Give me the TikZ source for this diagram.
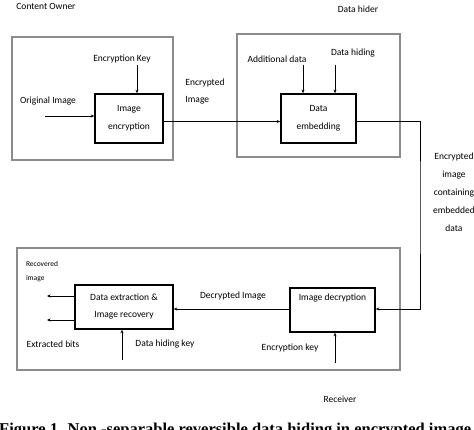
\documentclass[tikz,border=0pt]{standalone}
\usepackage{fontspec}
\setmainfont{Carlito}
\newfontfamily\capfont{Liberation Serif}
\usepackage{tikz}
\usetikzlibrary{positioning,arrows.meta}

\begin{document}
\begin{tikzpicture}[x=1pt,y=-1pt,
  font=\fontsize{9.5}{12}\selectfont,
  frame/.style={draw=black!45, line width=1.6pt},
  block/.style={draw, line width=1.6pt, align=center, inner sep=0pt},
  flow/.style={-{Stealth[length=3.5pt,width=3pt]}, line width=0.7pt}]
\useasboundingbox (0,0) rectangle (474,430);
% the three parties
\draw[frame] (12,37) rectangle (173,160);
\draw[frame] (237,34) rectangle (400,157);
\draw[frame] (17,248) rectangle (400,370);
\node (owner) at (46,6) {Content Owner};
\node (hider) at (358,9) {Data hider};
\node (receiver) at (340,399) {Receiver};
% blocks
\node[block, minimum width=68, minimum height=49] (enc) at (129,118.5) {Image\\[6pt]encryption};
\node[block, minimum width=75, minimum height=49] (emb) at (318.5,118.5) {Data\\[6pt]embedding};
\node[block, minimum width=85, minimum height=44,
  label={[below=3pt]north:Image decryption}] (dec) at (332.5,310) {};
\node[block, minimum width=98, minimum height=44] (ext) at (124,307) {Data extraction \&\\[5pt]Image recovery};
% labels
\node (orig) at (48,101) {Original Image};
\node (enckey) at (122,59) {Encryption Key};
\node[align=left] (encimg) at (205,92) {Encrypted\\[5pt]Image};
\node (addl) at (277,59) {Additional data};
\node (hidekey) at (353,53) {Data hiding};
\node[align=center] (embimg) at (454,192) {Encrypted\\[6pt]image\\[6pt]containing\\[6pt]embedded\\[6pt]data};
\node (decimg) at (233,296) {Decrypted Image};
\node[align=left, font=\fontsize{7.5}{14}\selectfont] (recimg) at (42,272) {Recovered\\image};
\node (bits) at (53,344) {Extracted bits};
\node (dhkey) at (165,344) {Data hiding key};
\node (deckey) at (290,348) {Encryption key};
% free ends
\coordinate (origin) at (45,116);
\coordinate (keyin) at (137,65);
\coordinate (addin) at (303,65);
\coordinate (hidein) at (335,65);
\coordinate (corner) at (420,200);
\coordinate (recout) at (47,296);
\coordinate (bitsout) at (47,320);
\coordinate (dhin) at (122,360);
\coordinate (decin) at (335,363);
% connectors
\draw[flow] (origin) -- (origin -| enc.west);
\draw[flow] (keyin) -- (keyin |- enc.north);
\draw[flow] ([yshift=-3pt]enc.east) -- ([yshift=-3pt]emb.west);
\draw[flow] (addin) -- (addin |- emb.north);
\draw[flow] (hidein) -- (hidein |- emb.north);
\draw[flow] ([yshift=-3pt]emb.east) -| (corner) |- ([yshift=1pt]dec.east);
\draw[flow] ([yshift=1pt]dec.west) -- ([yshift=1pt]dec.west -| ext.east);
\draw[flow] (recout -| ext.west) -- (recout);
\draw[flow] (bitsout -| ext.west) -- (bitsout);
\draw[flow] (dhin) -- (dhin |- ext.south);
\draw[flow] (decin) -- (decin |- dec.south);
% caption, cut by the page
\node[anchor=base west, inner sep=0pt, font=\capfont\bfseries\fontsize{16.5}{18}\selectfont] (caption) at (-1,434) {Figure 1. Non -separable reversible data hiding in encrypted image};
\end{tikzpicture}
\end{document}
